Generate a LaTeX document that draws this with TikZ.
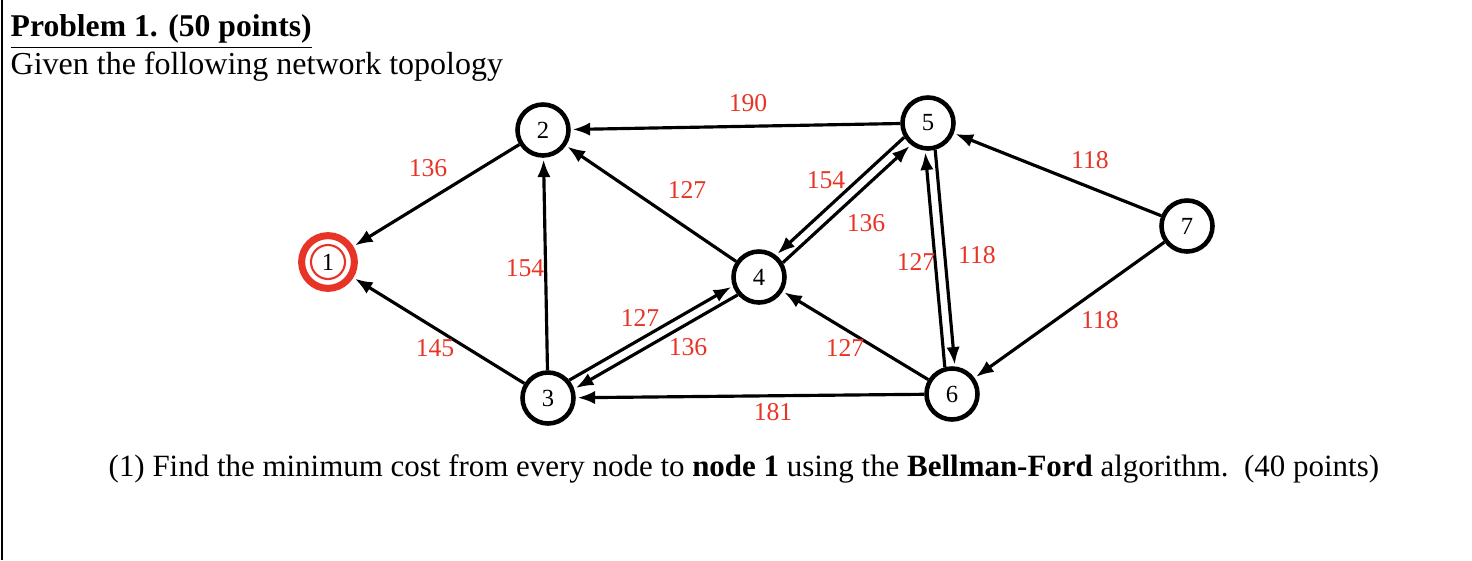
\documentclass[tikz,border=0pt]{standalone}
\usepackage{fontspec}
\setmainfont{Liberation Serif}
\usetikzlibrary{arrows.meta}
\definecolor{lred}{RGB}{232,52,38}
\begin{document}
\begin{tikzpicture}[x=0.01cm,y=-0.01cm,
  vtx/.style={circle,draw,line width=1.3pt,minimum size=14.5pt,inner sep=0pt,font=\fontsize{7}{8}\selectfont},
  edge/.style={line width=0.9pt,-{Latex[length=5pt,width=3.8pt]},shorten >=0.5pt},
  wt/.style={text=lred,font=\fontsize{7.3}{8}\selectfont,inner sep=1pt}]
\useasboundingbox (0,0) rectangle (1472,560);
\draw[line width=0.6pt] (2,0) -- (2,560);
\node[anchor=base west,inner sep=0,font=\fontsize{9}{11}\selectfont\bfseries] (title) at (10,36) {\underline{Problem 1. (50 points)}};
\node[anchor=base west,inner sep=0,font=\fontsize{9.1}{11}\selectfont] (given) at (10,74) {Given the following network topology};
\node[anchor=base west,inner sep=0,font=\fontsize{8.8}{11}\selectfont] (q) at (108,476) {(1) Find the minimum cost from every node to \textbf{node 1} using the \textbf{Bellman-Ford} algorithm.\ \ (40 points)};

\node[vtx,draw=lred,line width=2pt,minimum size=15pt] (n1) at (328,262) {};
\draw[lred,line width=0.6pt] (n1) circle[radius=17];
\node[font=\fontsize{7}{8}\selectfont] (n1l) at (328,262) {1};
\node[vtx] (n2) at (543,130) {2};
\node[vtx] (n3) at (548,398) {3};
\node[vtx] (n4) at (759,277) {4};
\node[vtx] (n5) at (928,123) {5};
\node[vtx] (n6) at (952,394) {6};
\node[vtx] (n7) at (1187,226) {7};

\draw[edge] (n2) -- (n1);
\draw[edge] (n3) -- (n1);
\draw[edge] (n3) -- (n2);
\draw[edge] (n4) -- (n2);
\draw[edge] (n5) -- (n2);
\draw[edge] (n3.40.3) -- (n4.199.3);
\draw[edge] (n4.220.3) -- (n3.19.3);
\draw[edge] (n5.211.8) -- (n4.52.8);
\draw[edge] (n4.31.8) -- (n5.232.8);
\draw[edge] (n6.105.5) -- (n5.264.5);
\draw[edge] (n5.285.5) -- (n6.84.5);
\draw[edge] (n6) -- (n4);
\draw[edge] (n6) -- (n3);
\draw[edge] (n7) -- (n5);
\draw[edge] (n7) -- (n6);

\node[wt] (w21) at (428,168) {136};
\node[wt] (w31) at (435,348) {145};
\node[wt] (w32) at (525,268) {154};
\node[wt] (w42) at (687,190) {127};
\node[wt] (w52) at (748,103) {190};
\node[wt] (w34) at (640,318) {127};
\node[wt] (w43) at (688,347) {136};
\node[wt] (w54) at (826,180) {154};
\node[wt] (w45) at (866,223) {136};
\node[wt] (w65) at (916,262) {127};
\node[wt] (w56) at (977,255) {118};
\node[wt] (w64) at (845,348) {127};
\node[wt] (w63) at (773,412) {181};
\node[wt] (w75) at (1090,160) {118};
\node[wt] (w76) at (1100,320) {118};
\end{tikzpicture}
\end{document}
